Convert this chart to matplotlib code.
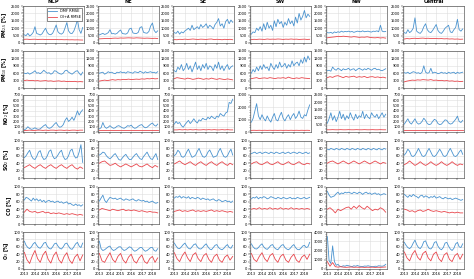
"""Relative RMSE time series per region and pollutant (DMF vs OI+A)."""

import matplotlib

matplotlib.use("Agg")
import matplotlib.pyplot as plt  # noqa: E402
import matplotlib.dates as mdates  # noqa: E402
import pandas as pd  # noqa: E402
from matplotlib.ticker import AutoMinorLocator, MultipleLocator  # noqa: E402

regions = ["NCP", "NE", "SE", "SW", "NW", "Central"]
pollutants = ["PM$_{2.5}$ [%]", "PM$_{10}$ [%]", "NO$_2$ [%]", "SO$_2$ [%]", "CO [%]", "O$_3$ [%]"]
series_labels = ["DMF RMSE", "OI+A RMSE"]

# blue series: every 2 months from Jan 2013, red series: every 3 months
dmf_dates = pd.date_range("2013-01-01", periods=34, freq="2MS")
oia_dates = pd.date_range("2013-01-01", periods=23, freq="3MS")

# ---- PM2.5
ncp_pm25_dmf = [550, 500, 650, 480, 560, 720, 1100, 640, 600, 540, 620, 820, 1000, 700, 580, 560, 660, 920,
                1220, 760, 640, 600, 700, 1020, 1380, 820, 660, 640, 820, 1150, 1580, 900, 650, 1050]
ncp_pm25_oia = [250, 260, 240, 250, 255, 240, 245, 250, 235, 240, 230, 235, 240, 225, 230, 220, 225, 215,
                220, 210, 215, 205, 200]
ne_pm25_dmf = [550, 600, 650, 580, 620, 700, 900, 620, 640, 600, 650, 780, 880, 640, 620, 600, 680, 950,
               1000, 680, 650, 640, 720, 1050, 1100, 720, 680, 660, 780, 1150, 1350, 850, 700, 820]
ne_pm25_oia = [280, 290, 300, 310, 300, 320, 330, 320, 340, 330, 340, 350, 340, 330, 350, 340, 330, 320,
               330, 320, 310, 320, 300]
se_pm25_dmf = [700, 650, 800, 600, 750, 680, 820, 900, 1000, 850, 1200, 900, 1000, 1100, 950, 1250, 1050, 1150,
               1300, 1000, 1200, 1100, 950, 1250, 1400, 1650, 1150, 1300, 1000, 1450, 1600, 1300, 1550, 1400]
se_pm25_oia = [230, 220, 250, 240, 260, 240, 250, 270, 250, 240, 260, 250, 240, 260, 270, 230, 250, 240,
               220, 250, 230, 250, 220]
sw_pm25_dmf = [600, 750, 700, 1000, 850, 1100, 800, 1300, 900, 1400, 1000, 1200, 850, 1500, 1100, 1600, 1300, 1450,
               1050, 1400, 1200, 1650, 1300, 1500, 1150, 1750, 1350, 2000, 1550, 1800, 2200, 1700, 1950, 1800]
sw_pm25_oia = [230, 250, 240, 260, 250, 240, 270, 250, 260, 250, 270, 260, 240, 260, 250, 270, 250, 260,
               240, 250, 260, 240, 250]
nw_pm25_dmf = [700, 680, 720, 650, 750, 700, 760, 720, 800, 740, 780, 760, 800, 750, 780, 720, 760, 800,
               780, 760, 820, 760, 780, 800, 760, 740, 800, 780, 820, 760, 1200, 800, 760, 780]
nw_pm25_oia = [350, 380, 400, 420, 450, 430, 460, 440, 420, 400, 430, 410, 380, 400, 390, 420, 380, 360,
               350, 370, 340, 360, 330]
central_pm25_dmf = [700, 650, 900, 700, 800, 1000, 1700, 800, 700, 650, 800, 1100, 1300, 900, 750, 700, 850, 1050,
                    1250, 850, 700, 650, 800, 1000, 1100, 1200, 750, 700, 900, 1050, 1600, 900, 800, 950]
central_pm25_oia = [270, 300, 280, 310, 320, 300, 320, 330, 310, 320, 300, 310, 300, 290, 300, 280, 290, 270,
                    280, 260, 270, 250, 260]

# ---- PM10
ncp_pm10_dmf = [600, 580, 620, 560, 600, 640, 700, 600, 620, 580, 640, 720, 650, 600, 620, 560, 600, 700,
                680, 620, 580, 560, 600, 700, 720, 640, 600, 560, 620, 680, 700, 600, 520, 640]
ncp_pm10_oia = [300, 320, 300, 310, 290, 300, 280, 290, 300, 280, 290, 270, 280, 290, 270, 280, 260, 270,
                260, 270, 250, 260, 250]
ne_pm10_dmf = [600, 620, 640, 560, 600, 660, 620, 640, 600, 580, 640, 620, 660, 620, 640, 600, 660, 640,
               620, 600, 660, 640, 620, 680, 640, 600, 660, 620, 640, 660, 620, 640, 600, 660]
ne_pm10_oia = [280, 300, 320, 300, 320, 340, 320, 340, 330, 350, 340, 360, 340, 350, 360, 350, 370, 360,
               380, 370, 390, 370, 380]
se_pm10_dmf = [700, 650, 850, 750, 950, 700, 800, 1000, 750, 900, 650, 850, 1050, 750, 900, 700, 950, 800,
               1000, 750, 900, 850, 700, 950, 800, 1050, 750, 900, 700, 850, 950, 750, 850, 900]
se_pm10_oia = [380, 420, 400, 380, 360, 400, 380, 350, 370, 400, 380, 350, 380, 360, 400, 370, 350, 380,
               360, 340, 370, 350, 330]
sw_pm10_dmf = [600, 750, 650, 850, 700, 900, 750, 950, 800, 850, 700, 1000, 850, 750, 950, 800, 1050, 850,
               900, 1000, 800, 950, 850, 1100, 900, 1000, 1050, 900, 1150, 1000, 1250, 1050, 1300, 1150]
sw_pm10_oia = [380, 400, 420, 380, 400, 410, 390, 420, 400, 380, 410, 400, 420, 390, 440, 400, 380, 410,
               390, 420, 400, 390, 380]
nw_pm10_dmf = [700, 720, 680, 850, 760, 720, 800, 760, 700, 780, 740, 760, 800, 720, 760, 780, 700, 760,
               800, 760, 720, 780, 740, 800, 760, 720, 780, 800, 740, 760, 720, 700, 740, 780]
nw_pm10_oia = [420, 460, 430, 480, 500, 460, 420, 470, 440, 460, 480, 430, 460, 440, 470, 420, 450, 460,
               430, 450, 420, 440, 410]
central_pm10_dmf = [620, 600, 640, 580, 620, 660, 640, 600, 620, 580, 640, 900, 640, 600, 620, 800, 600, 640,
                    620, 580, 600, 640, 600, 620, 580, 640, 600, 620, 640, 580, 640, 600, 620, 640]
central_pm10_oia = [250, 280, 300, 320, 310, 330, 320, 340, 330, 320, 340, 310, 320, 300, 310, 290, 300, 280,
                    290, 270, 280, 260, 270]

# ---- NO2
ncp_no2_dmf = [40, 60, 100, 70, 50, 60, 80, 60, 50, 60, 90, 120, 140, 90, 70, 80, 110, 150,
               180, 120, 90, 100, 140, 220, 270, 200, 230, 280, 220, 300, 400, 320, 380, 420]
ncp_no2_oia = [30, 30, 35, 30, 30, 35, 35, 30, 35, 30, 35, 35, 30, 35, 35, 30, 35, 30, 35, 35, 30, 35, 35]
ne_no2_dmf = [60, 80, 180, 100, 70, 90, 120, 90, 70, 80, 110, 120, 100, 80, 70, 90, 120, 110,
              130, 90, 70, 80, 110, 130, 140, 100, 80, 90, 120, 150, 170, 130, 110, 150]
ne_no2_oia = [35, 35, 35, 35, 35, 35, 35, 35, 35, 35, 35, 35, 35, 35, 35, 35, 35, 35, 35, 35, 35, 35, 35]
se_no2_dmf = [150, 200, 160, 180, 120, 90, 140, 180, 220, 160, 200, 250, 200, 170, 230, 210, 260, 240,
              230, 280, 250, 300, 270, 250, 300, 280, 350, 320, 300, 360, 380, 560, 540, 620]
se_no2_oia = [40, 40, 45, 40, 45, 40, 45, 40, 45, 40, 40, 45, 40, 45, 40, 45, 40, 40, 45, 40, 45, 40, 40]
sw_no2_dmf = [800, 1100, 1700, 2300, 1300, 1000, 1400, 1100, 900, 1300, 1000, 800, 1200, 1500, 1000, 900, 1300, 1600,
              1100, 900, 1200, 1400, 1000, 1300, 1500, 1100, 1300, 1700, 1200, 1100, 1400, 1300, 1800, 2200]
sw_no2_oia = [130, 140, 130, 140, 130, 140, 130, 140, 130, 140, 130, 140, 130, 140, 130, 140, 130, 140,
              130, 140, 130, 140, 130]
nw_no2_dmf = [600, 900, 1300, 800, 1100, 700, 1000, 1400, 900, 1200, 800, 1100, 900, 1300, 1000, 800, 1200, 900,
              1100, 1000, 1400, 900, 1200, 1000, 900, 1300, 1100, 1000, 1200, 900, 1100, 1300, 1000, 1200]
nw_no2_oia = [150, 150, 160, 150, 150, 160, 150, 150, 160, 150, 150, 160, 150, 150, 160, 150, 150, 160,
              150, 150, 160, 150, 150]
central_no2_dmf = [150, 200, 250, 180, 150, 200, 250, 180, 150, 160, 200, 260, 220, 160, 140, 150, 200, 240,
                   220, 160, 140, 150, 190, 230, 220, 170, 150, 160, 200, 240, 300, 200, 180, 220]
central_no2_oia = [40, 40, 40, 40, 40, 40, 40, 40, 40, 40, 40, 40, 40, 40, 40, 40, 40, 40, 40, 40, 40, 40, 40]

# ---- SO2
ncp_so2_dmf = [55, 60, 68, 75, 60, 52, 50, 58, 70, 74, 58, 50, 52, 60, 72, 76, 60, 52,
               55, 62, 70, 75, 58, 50, 52, 60, 74, 78, 62, 54, 56, 70, 90, 42]
ncp_so2_oia = [28, 32, 36, 30, 26, 32, 36, 30, 26, 32, 36, 30, 26, 32, 36, 30, 26, 32, 36, 28, 24, 30, 26]
ne_so2_dmf = [62, 65, 70, 68, 60, 55, 52, 56, 62, 66, 58, 50, 48, 54, 60, 64, 56, 50,
              50, 56, 62, 66, 58, 52, 50, 58, 64, 70, 60, 52, 50, 58, 66, 50]
ne_so2_oia = [40, 44, 46, 40, 34, 36, 40, 34, 30, 34, 38, 34, 30, 34, 38, 32, 30, 34, 38, 32, 28, 34, 30]
se_so2_dmf = [60, 65, 75, 70, 58, 56, 60, 70, 78, 66, 56, 58, 62, 72, 80, 68, 58, 56,
              60, 70, 76, 66, 56, 58, 60, 72, 80, 68, 58, 56, 60, 70, 78, 62]
se_so2_oia = [38, 42, 46, 40, 36, 40, 44, 38, 34, 40, 44, 38, 34, 40, 44, 38, 34, 40, 44, 38, 34, 40, 36]
sw_so2_dmf = [66, 68, 70, 66, 68, 70, 66, 68, 70, 68, 66, 70, 68, 66, 70, 68, 66, 68,
              70, 66, 68, 70, 66, 68, 70, 68, 66, 70, 68, 66, 68, 70, 66, 68]
sw_so2_oia = [38, 42, 44, 38, 36, 40, 44, 38, 36, 40, 44, 38, 36, 40, 44, 38, 36, 40, 44, 38, 36, 40, 38]
nw_so2_dmf = [78, 76, 80, 78, 76, 80, 78, 76, 80, 78, 76, 80, 78, 76, 80, 78, 76, 80,
              78, 76, 80, 78, 76, 80, 78, 76, 80, 78, 76, 80, 78, 76, 80, 78]
nw_so2_oia = [40, 44, 46, 42, 38, 42, 46, 42, 38, 42, 46, 42, 38, 42, 46, 42, 38, 42, 46, 42, 38, 42, 40]
central_so2_dmf = [62, 68, 78, 72, 60, 58, 62, 70, 80, 70, 60, 58, 62, 72, 80, 70, 60, 58,
                   62, 70, 78, 70, 60, 58, 62, 72, 80, 70, 60, 58, 62, 70, 76, 64]
central_so2_oia = [36, 40, 46, 40, 34, 38, 44, 38, 34, 38, 44, 38, 34, 38, 44, 38, 34, 38, 44, 38, 34, 38, 36]

# ---- CO
ncp_co_dmf = [65, 72, 70, 66, 62, 70, 64, 68, 62, 66, 60, 64, 58, 62, 64, 60, 62, 58,
              60, 62, 58, 60, 56, 58, 60, 54, 56, 52, 50, 54, 50, 52, 48, 52]
ncp_co_oia = [32, 40, 34, 32, 34, 30, 32, 34, 30, 32, 28, 30, 28, 30, 28, 26, 28, 26, 28, 26, 24, 26, 24]
ne_co_dmf = [62, 70, 78, 64, 58, 66, 72, 70, 68, 70, 66, 68, 70, 66, 64, 68, 66, 64,
             66, 68, 64, 62, 66, 64, 62, 64, 60, 62, 58, 60, 62, 58, 56, 58]
ne_co_oia = [38, 42, 40, 38, 36, 40, 38, 36, 38, 40, 36, 38, 36, 38, 36, 34, 36, 34, 32, 34, 32, 32, 30]
se_co_dmf = [70, 74, 72, 76, 70, 74, 72, 70, 74, 68, 72, 70, 68, 72, 70, 66, 70, 68,
             66, 68, 64, 66, 68, 64, 62, 66, 64, 60, 62, 64, 60, 62, 58, 62]
se_co_oia = [34, 36, 38, 34, 36, 34, 36, 38, 34, 36, 34, 36, 34, 36, 38, 34, 36, 34, 36, 34, 32, 34, 32]
sw_co_dmf = [68, 72, 70, 74, 68, 72, 70, 74, 72, 68, 70, 74, 72, 70, 68, 72, 70, 68,
             72, 70, 68, 70, 72, 68, 70, 68, 72, 70, 68, 70, 72, 68, 70, 72]
sw_co_oia = [40, 42, 40, 44, 40, 42, 40, 44, 40, 42, 40, 44, 40, 42, 40, 44, 40, 42, 40, 42, 40, 42, 40]
nw_co_dmf = [88, 78, 72, 74, 76, 82, 86, 80, 84, 82, 86, 84, 86, 84, 82, 86, 84, 82,
             86, 84, 80, 84, 86, 82, 84, 80, 82, 84, 80, 82, 78, 80, 82, 80]
nw_co_oia = [40, 44, 38, 30, 40, 36, 40, 44, 46, 40, 48, 42, 50, 44, 40, 48, 42, 36, 40, 38, 44, 40, 32]
central_co_dmf = [80, 76, 72, 78, 74, 80, 76, 74, 70, 76, 78, 72, 76, 74, 70, 74, 72, 76,
                  70, 72, 74, 70, 68, 72, 70, 68, 70, 66, 68, 70, 68, 66, 64, 66]
central_co_oia = [40, 38, 34, 36, 32, 36, 38, 34, 36, 40, 36, 34, 36, 34, 32, 34, 32, 30, 32, 30, 32, 30, 30]

# ---- O3
ncp_o3_dmf = [75, 64, 58, 55, 60, 68, 72, 64, 58, 56, 62, 70, 72, 62, 56, 54, 60, 68,
              70, 62, 56, 54, 60, 68, 70, 62, 55, 53, 60, 68, 72, 62, 58, 70]
ncp_o3_oia = [45, 25, 15, 35, 50, 28, 18, 38, 48, 26, 16, 36, 46, 25, 16, 34, 44, 24, 15, 32, 40, 22, 38]
ne_o3_dmf = [75, 55, 50, 52, 56, 60, 62, 54, 50, 52, 56, 60, 60, 54, 50, 52, 56, 60,
             58, 52, 48, 50, 54, 58, 58, 52, 48, 50, 54, 58, 58, 50, 48, 55]
ne_o3_oia = [42, 22, 18, 32, 44, 26, 18, 34, 42, 24, 16, 32, 40, 22, 16, 30, 38, 20, 15, 28, 34, 18, 30]
se_o3_dmf = [70, 62, 56, 55, 60, 66, 70, 62, 56, 54, 60, 66, 68, 60, 55, 54, 58, 64,
             68, 60, 54, 52, 58, 64, 66, 58, 54, 52, 56, 62, 66, 58, 56, 64]
se_o3_oia = [44, 28, 20, 36, 46, 30, 20, 38, 44, 28, 20, 36, 42, 26, 18, 34, 40, 24, 18, 32, 38, 24, 34]
sw_o3_dmf = [68, 60, 55, 54, 58, 64, 68, 60, 55, 53, 58, 64, 66, 58, 54, 52, 58, 64,
             66, 58, 54, 52, 56, 62, 66, 58, 53, 52, 56, 62, 64, 58, 60, 72]
sw_o3_oia = [42, 26, 20, 34, 44, 28, 20, 36, 42, 26, 18, 34, 40, 24, 18, 32, 40, 24, 18, 32, 38, 26, 40]
nw_o3_dmf = [3500, 900, 600, 2500, 800, 400, 500, 300, 250, 350, 300, 400, 350, 300, 250, 350, 300, 380,
             300, 280, 260, 320, 300, 350, 300, 260, 250, 300, 280, 350, 320, 300, 350, 500]
nw_o3_oia = [800, 300, 700, 250, 200, 250, 200, 180, 200, 220, 180, 200, 180, 200, 170, 190, 180, 200,
             170, 190, 180, 200, 220]
central_o3_dmf = [72, 64, 58, 55, 60, 70, 78, 66, 58, 55, 62, 74, 76, 64, 56, 54, 60, 72,
                  74, 62, 55, 52, 58, 70, 72, 62, 54, 50, 56, 68, 72, 60, 58, 68]
central_o3_oia = [46, 30, 22, 40, 50, 32, 24, 42, 48, 30, 22, 40, 46, 28, 20, 38, 44, 26, 20, 36, 42, 26, 40]

# y-axis upper limit and tick step, row by row (NW deviates in two rows)
ymax_rows = [2500, 1500, 700, 100, 100, 100]
ystep_rows = [500, 300, 100, 20, 20, 20]
ymax_special = {(2, 3): (3000, 1000), (2, 4): (2500, 500), (5, 4): (4000, 1000)}

grid = [
    [(ncp_pm25_dmf, ncp_pm25_oia), (ne_pm25_dmf, ne_pm25_oia), (se_pm25_dmf, se_pm25_oia),
     (sw_pm25_dmf, sw_pm25_oia), (nw_pm25_dmf, nw_pm25_oia), (central_pm25_dmf, central_pm25_oia)],
    [(ncp_pm10_dmf, ncp_pm10_oia), (ne_pm10_dmf, ne_pm10_oia), (se_pm10_dmf, se_pm10_oia),
     (sw_pm10_dmf, sw_pm10_oia), (nw_pm10_dmf, nw_pm10_oia), (central_pm10_dmf, central_pm10_oia)],
    [(ncp_no2_dmf, ncp_no2_oia), (ne_no2_dmf, ne_no2_oia), (se_no2_dmf, se_no2_oia),
     (sw_no2_dmf, sw_no2_oia), (nw_no2_dmf, nw_no2_oia), (central_no2_dmf, central_no2_oia)],
    [(ncp_so2_dmf, ncp_so2_oia), (ne_so2_dmf, ne_so2_oia), (se_so2_dmf, se_so2_oia),
     (sw_so2_dmf, sw_so2_oia), (nw_so2_dmf, nw_so2_oia), (central_so2_dmf, central_so2_oia)],
    [(ncp_co_dmf, ncp_co_oia), (ne_co_dmf, ne_co_oia), (se_co_dmf, se_co_oia),
     (sw_co_dmf, sw_co_oia), (nw_co_dmf, nw_co_oia), (central_co_dmf, central_co_oia)],
    [(ncp_o3_dmf, ncp_o3_oia), (ne_o3_dmf, ne_o3_oia), (se_o3_dmf, se_o3_oia),
     (sw_o3_dmf, sw_o3_oia), (nw_o3_dmf, nw_o3_oia), (central_o3_dmf, central_o3_oia)],
]

BLUE = "#4a93cf"
RED = "#e8464c"
W, H = 474, 279
col_left = [23, 98, 173, 250, 326, 403]
row_top = [6, 51, 95, 141, 187, 232]
ax_w, ax_h = 61, 37

fig = plt.figure(figsize=(W / 100, H / 100), dpi=100)
year_ticks = pd.to_datetime([f"{y}-01-01" for y in range(2013, 2019)])

for r in range(6):
    for c in range(6):
        ax = fig.add_axes([col_left[c] / W, 1 - (row_top[r] + ax_h) / H, ax_w / W, ax_h / H])
        dmf, oia = grid[r][c]
        ax.plot(dmf_dates, dmf, color=BLUE, linewidth=0.6, label=series_labels[0])
        ax.plot(oia_dates, oia, color=RED, linewidth=0.6, label=series_labels[1])
        ymax, ystep = ymax_special.get((r, c), (ymax_rows[r], ystep_rows[r]))
        ax.set_ylim(0, ymax)
        ax.yaxis.set_major_locator(MultipleLocator(ystep))
        ax.yaxis.set_minor_locator(AutoMinorLocator(5))
        ax.set_xlim(pd.Timestamp("2012-11-15"), pd.Timestamp("2018-08-15"))
        ax.set_xticks(year_ticks)
        ax.xaxis.set_major_formatter(mdates.DateFormatter("%Y"))
        if r < 5:
            ax.set_xticklabels([])
        ax.grid(True, color="#dddddd", linewidth=0.4)
        ax.tick_params(labelsize=2.6, length=1.2, width=0.3, pad=0.8)
        ax.tick_params(which="minor", length=0.7, width=0.25)
        for spine in ax.spines.values():
            spine.set_linewidth(0.4)
            spine.set_color("#333333")
        if r == 0:
            ax.set_title(regions[c], fontsize=3.6, fontweight="bold", pad=2)
        if c == 0:
            ax.set_ylabel(pollutants[r], fontsize=3.4, fontweight="bold", labelpad=1.5)
        if r == 0 and c == 0:
            ax.legend(loc="upper right", fontsize=2.6, frameon=True, framealpha=1,
                      edgecolor="#333333", fancybox=False, handlelength=2.5,
                      borderpad=0.4, labelspacing=0.6).get_frame().set_linewidth(0.4)

fig.savefig("out.png", dpi=100)
